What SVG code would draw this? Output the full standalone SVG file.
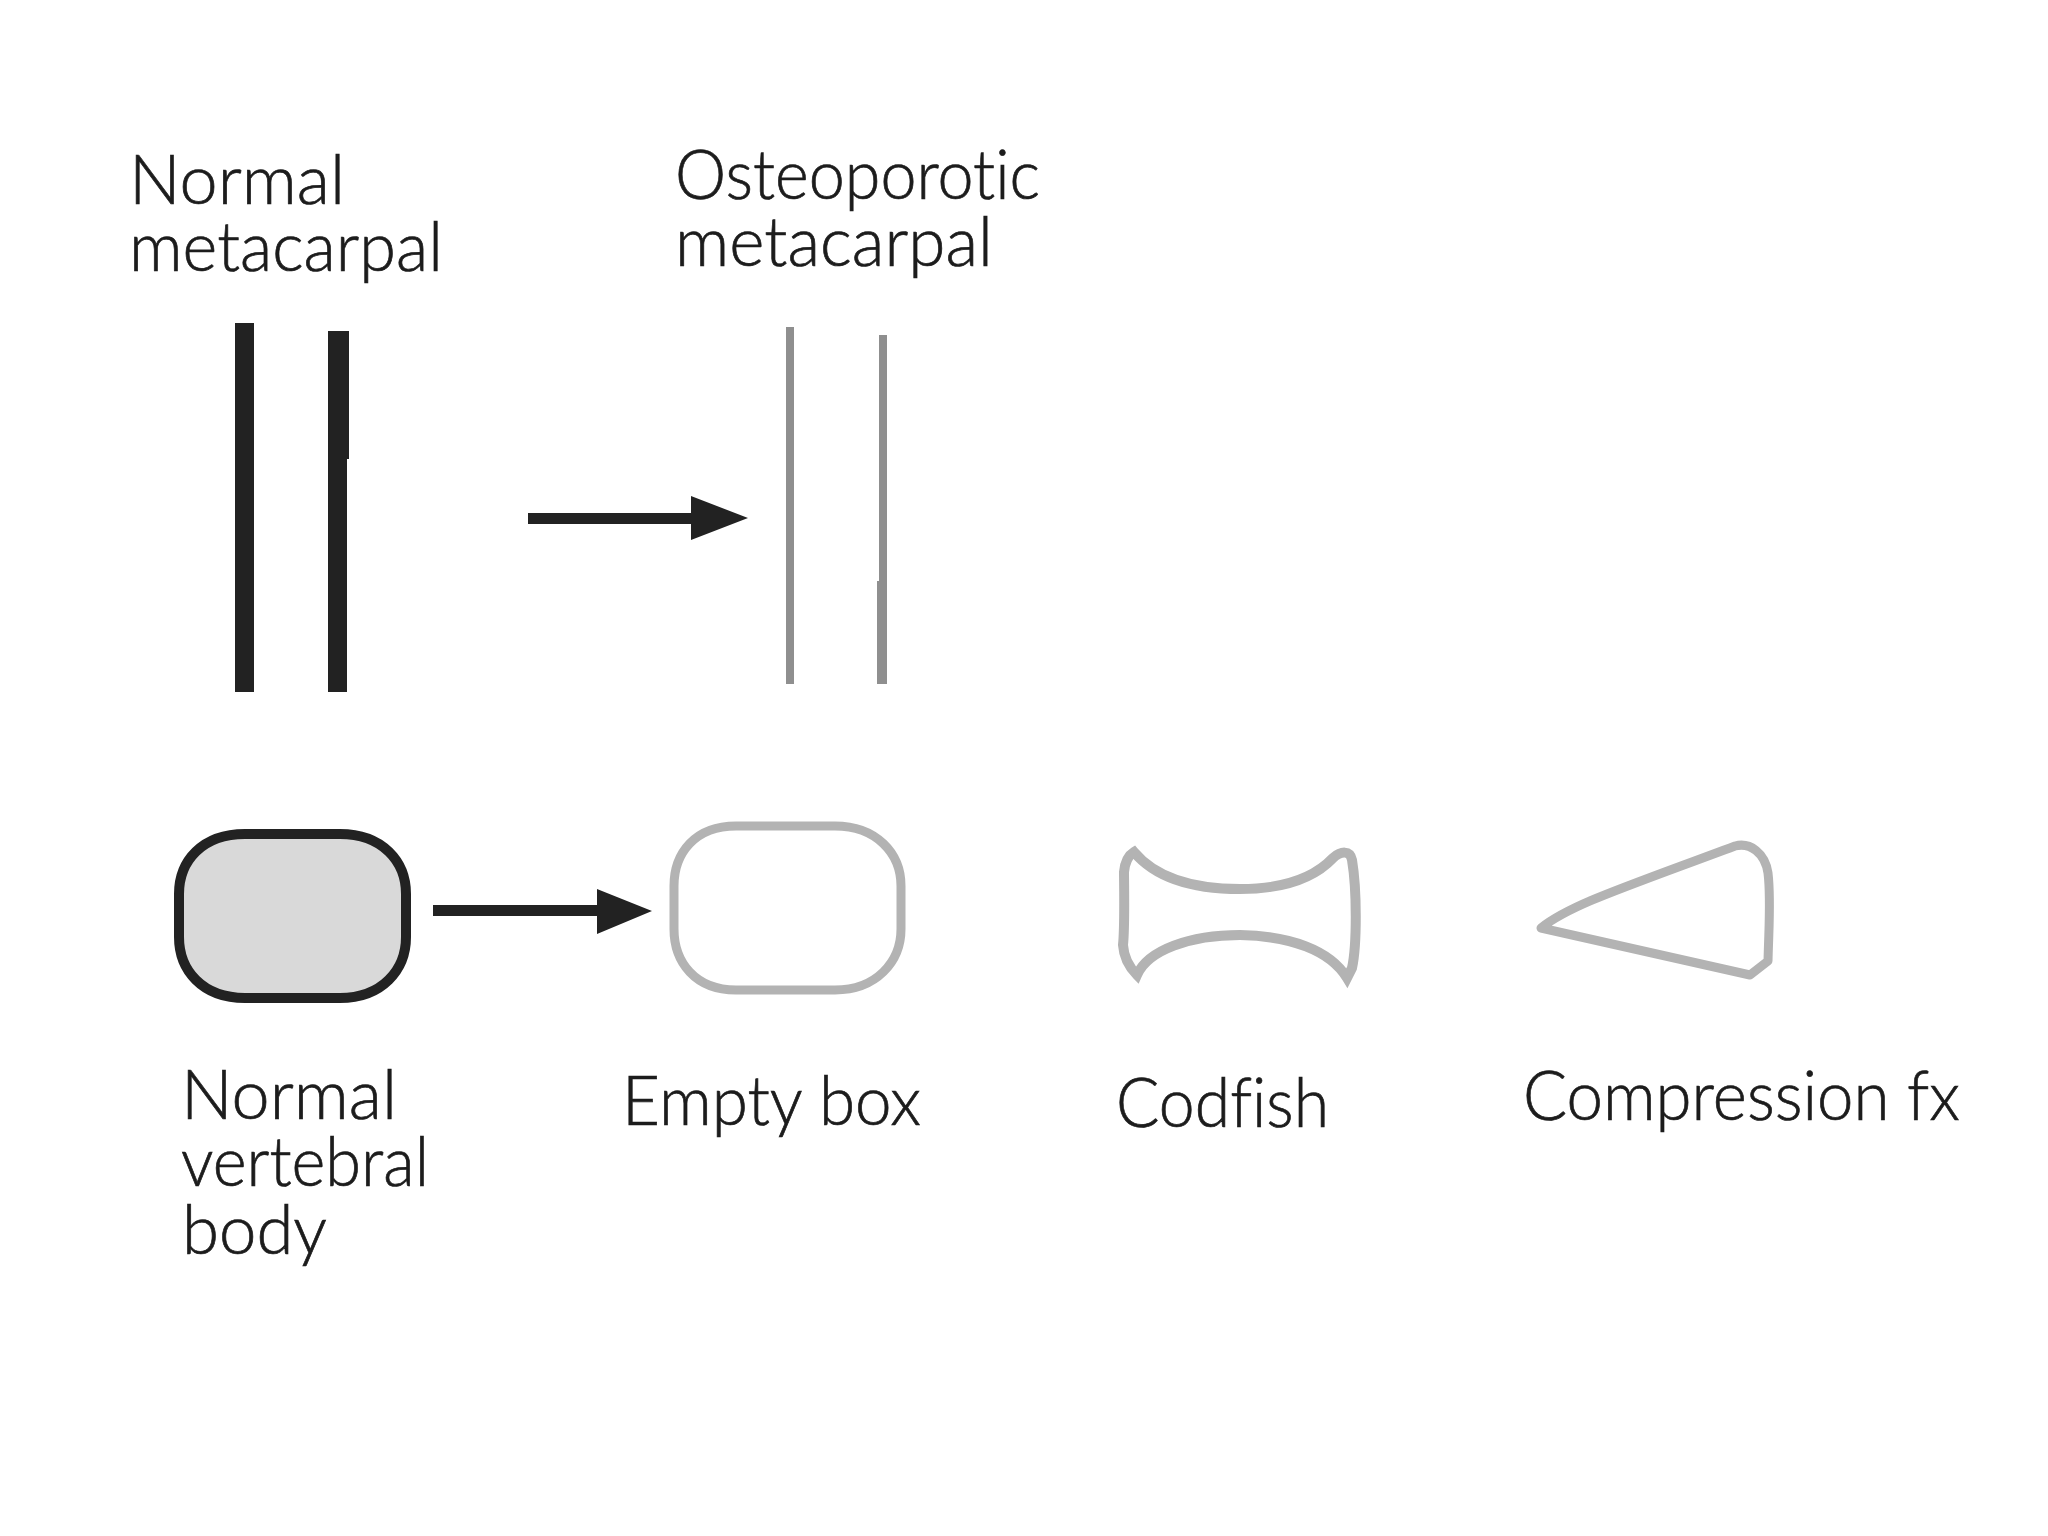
<svg xmlns="http://www.w3.org/2000/svg" width="2048" height="1536" viewBox="0 0 2048 1536">
<style>
text{font-family:"Lato","Open Sans","Liberation Sans",sans-serif;font-size:68px;fill:#1c1c1c;stroke:#1c1c1c;stroke-width:.7;font-weight:300;font-variant-ligatures:none}
.dark{fill:#222}
.thin{fill:#8f8f8f}
.out{fill:none;stroke:#b3b3b3;stroke-width:9;stroke-linejoin:round}
.sharp{stroke-linejoin:miter;stroke-miterlimit:4;stroke-width:10}
</style>
<rect width="2048" height="1536" fill="#fff"/>
<g id="connectors">
<path class="dark" d="M528 513H691V496L748 518L691 540V524H528Z"/>
<path class="dark" d="M433 905H597V889L652 911L597 934V916H433Z"/>
</g>
<g id="normal-metacarpal">
<text x="129" y="204" textLength="216" lengthAdjust="spacingAndGlyphs">Normal</text>
<text x="129" y="271" textLength="314" lengthAdjust="spacingAndGlyphs">metacarpal</text>
<rect class="dark" x="235" y="323" width="19" height="369"/>
<path class="dark" d="M328 331H349V459H347V692H328Z"/>
</g>
<g id="osteoporotic-metacarpal">
<text x="675" y="199" textLength="365" lengthAdjust="spacingAndGlyphs">Osteoporotic</text>
<text x="675" y="266" textLength="318" lengthAdjust="spacingAndGlyphs">metacarpal</text>
<rect class="thin" x="786" y="327" width="8" height="357"/>
<path class="thin" d="M879 335H887V684H877V581H879Z"/>
</g>
<g id="normal-vertebral-body">
<path d="M245 834H340C382 834 406 861 406 894V937C406 970 382 998 340 998H245C202 998 179 970 179 937V894C179 861 202 834 245 834Z" fill="#d9d9d9" stroke="#222" stroke-width="10"/>
<text x="181" y="1119" textLength="216" lengthAdjust="spacingAndGlyphs">Normal</text>
<text x="181" y="1186" textLength="248" lengthAdjust="spacingAndGlyphs">vertebral</text>
<text x="182" y="1254" textLength="145" lengthAdjust="spacingAndGlyphs">body</text>
</g>
<g id="empty-box">
<path class="out" d="M736 826H835C876 826 901 853 901 886V929C901 962 876 990 835 990H736C695 990 674 962 674 929V886C674 853 695 826 736 826Z"/>
<text x="622" y="1125" textLength="299" lengthAdjust="spacingAndGlyphs">Empty box</text>
</g>
<g id="codfish">
<path class="out sharp" d="M1134 852C1154 876 1190 889 1240 889C1285 889 1315 877 1333 858C1341 851 1350 850 1352 860C1357 890 1357 945 1352 968L1347 978C1330 950 1290 936 1240 935C1190 935 1148 950 1137 975C1132 970 1124 960 1123 945C1125 925 1124 885 1124 872C1125 862 1129 855 1134 852Z"/>
<text x="1116" y="1127" textLength="213" lengthAdjust="spacingAndGlyphs">Codfish</text>
</g>
<g id="compression-fx">
<path class="out" d="M1541 928C1570 905 1620 889 1735 846C1750 842 1765 853 1768 873C1771 898 1769 923 1768 961L1750 975L1541 928Z"/>
<text x="1523" y="1120" textLength="437" lengthAdjust="spacingAndGlyphs">Compression fx</text>
</g>
</svg>
